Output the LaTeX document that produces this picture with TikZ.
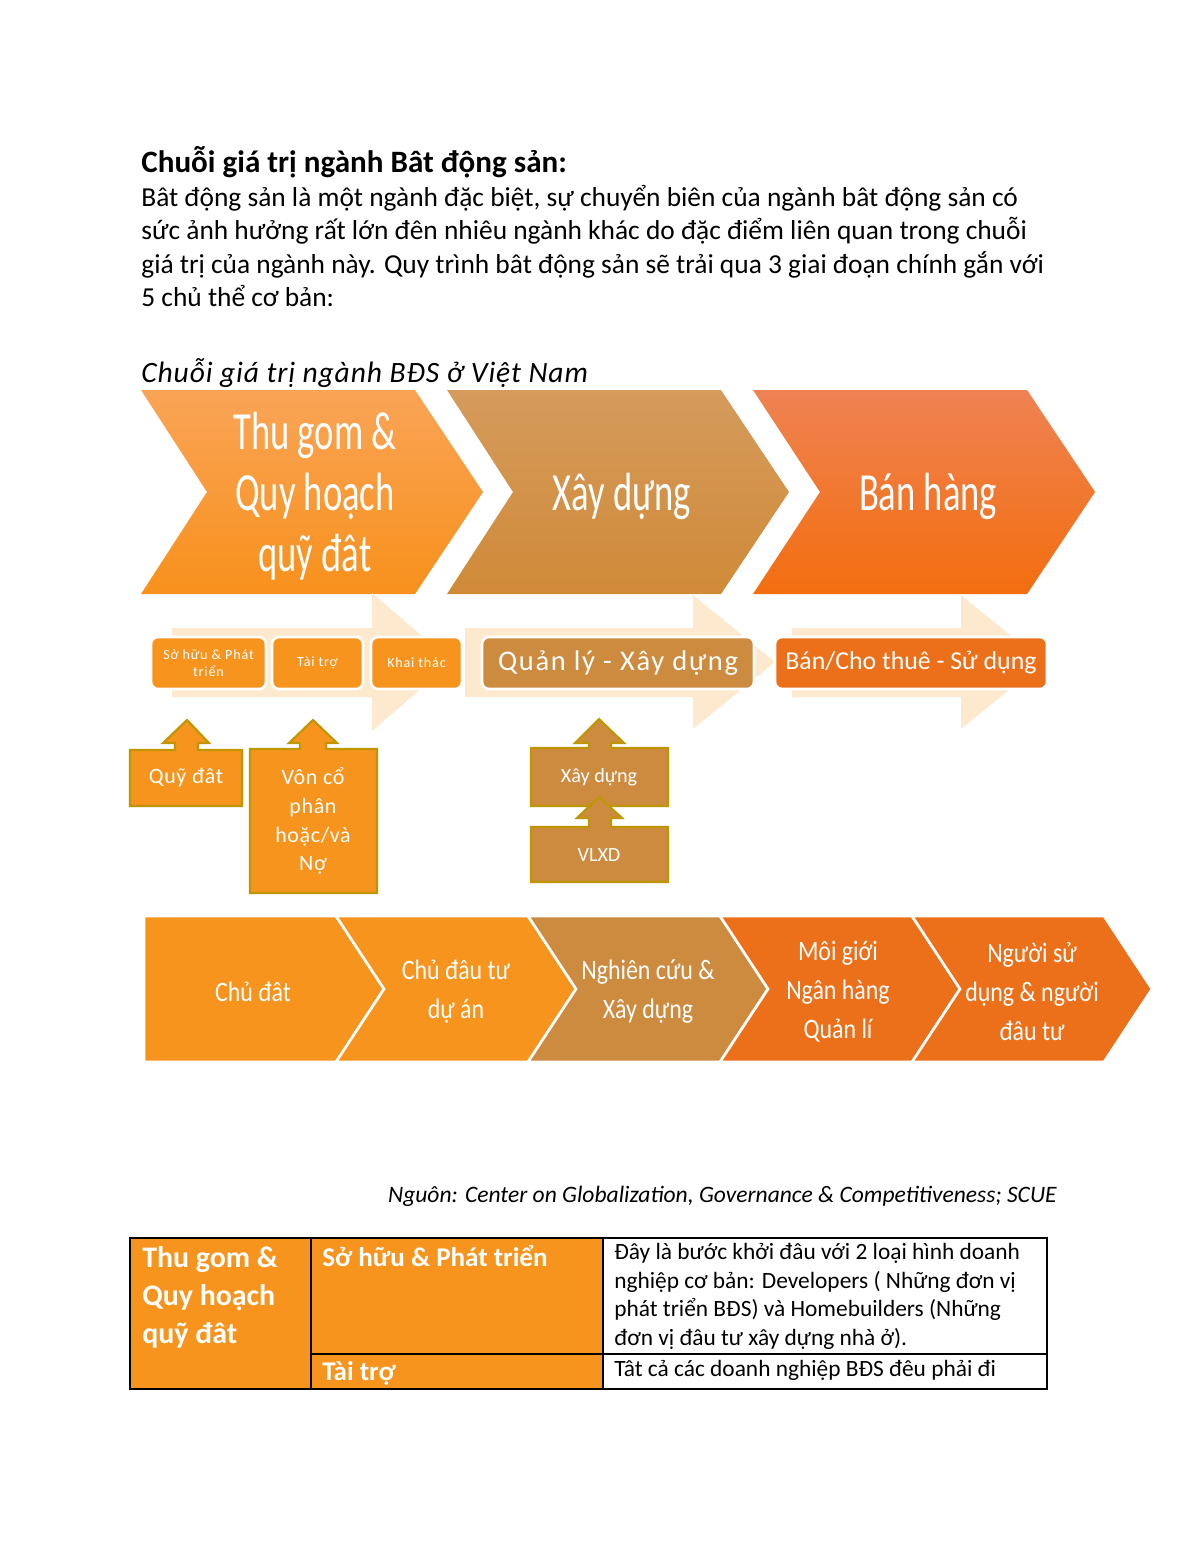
\documentclass[tikz,border=0pt]{standalone}
\usepackage{fontspec}
\setmainfont{Carlito}
\newfontfamily\stagefont[FakeStretch=0.68]{Carlito}
\newfontfamily\actorfont[FakeStretch=0.85]{Carlito}
\newfontfamily\spacedfont[LetterSpace=6]{Carlito}
\newfontfamily\widefont[LetterSpace=3]{Carlito}

\definecolor{orangeA}{RGB}{247,148,30}
\definecolor{tanA}{RGB}{205,139,64}
\definecolor{orangeB}{RGB}{235,112,25}
\definecolor{peach}{RGB}{253,233,205}
\definecolor{goldline}{RGB}{191,150,0}

\begin{document}
\begin{tikzpicture}[x=0.02cm, y=-0.02cm,
	stage/.style={text=white, align=center, font=\stagefont\fontsize{30.6}{34.6}\selectfont},
	actor/.style={draw=white, line width=1.5pt},
	actortext/.style={text=white, align=center, font=\actorfont\fontsize{16}{22.2}\selectfont},
	task/.style={draw=white, line width=1.5pt, rounded corners=4pt, text=white, align=center, inner sep=1pt},
	input/.style={fill=orangeA, draw=goldline, line width=1.2pt},
	inputtext/.style={text=white, align=center, font=\widefont\fontsize{12.5}{16.4}\selectfont},
	cell/.style={anchor=north west, align=left, inner sep=0pt}]
	\useasboundingbox[fill=white] (0,0) rectangle (1200,1553);

	\node[anchor=base west, inner sep=0pt, font=\bfseries\fontsize{17.7}{19}\selectfont] (title) at (141,172) {Chuỗi giá trị ngành Bât động sản:};
	\node[cell, font=\fontsize{15.6}{19}\selectfont] (intro) at (141,185) {Bât động sản là một ngành đặc biệt, sự chuyển biên của ngành bât động sản có\\sức ảnh hưởng rất lớn đên nhiêu ngành khác do đặc điểm liên quan trong chuỗi\\giá trị của ngành này. Quy trình bât động sản sẽ trải qua 3 giai đoạn chính gắn với\\5 chủ thể cơ bản:};
	\node[anchor=base west, inner sep=0pt, font=\itshape\widefont\fontsize{16.8}{19}\selectfont] (caption) at (141,382) {Chuỗi giá trị ngành BĐS ở Việt Nam};

	% three stages
	\shade[top color={rgb,255:red,249;green,164;blue,86}, bottom color={rgb,255:red,248;green,145;blue,28}] (141,390) -- (415,390) -- (483,492) -- (415,594) -- (141,594) -- (207,492) -- cycle;
	\shade[top color={rgb,255:red,213;green,155;blue,92}, bottom color={rgb,255:red,208;green,138;blue,56}] (447,390) -- (721,390) -- (789,492) -- (721,594) -- (447,594) -- (513,492) -- cycle;
	\shade[top color={rgb,255:red,239;green,130;blue,82}, bottom color={rgb,255:red,243;green,110;blue,15}] (753,390) -- (1027,390) -- (1095,492) -- (1027,594) -- (753,594) -- (820,492) -- cycle;
	\node[stage] (thugom) at (315,496) {Thu gom \&\\Quy hoạch\\quỹ đât};
	\node[stage] (xaydung) at (622,496) {Xây dựng};
	\node[stage] (banhang) at (928,496) {Bán hàng};

	% light arrows behind the tasks
	\fill[peach] (172,628) -- (372,628) -- (372,593) -- (452,662) -- (372,731) -- (372,697) -- (172,697) -- cycle;
	\fill[peach] (465,628) -- (693,628) -- (693,595) -- (775,662) -- (693,729) -- (693,697) -- (465,697) -- cycle;
	\fill[peach] (792,628) -- (961,628) -- (961,595) -- (1043,662) -- (961,729) -- (961,697) -- (792,697) -- cycle;

	\node[task, fill=orangeA, minimum width=2.3cm, minimum height=1.04cm, font=\spacedfont\fontsize{8}{9.6}\selectfont] (sohuu) at (208.5,663) {Sở hữu \& Phát\\triển};
	\node[task, fill=orangeA, minimum width=1.82cm, minimum height=1.04cm, font=\spacedfont\fontsize{8}{9.6}\selectfont] (taitro) at (317.5,663) {Tài trợ};
	\node[task, fill=orangeA, minimum width=1.82cm, minimum height=1.04cm, font=\spacedfont\fontsize{8}{9.6}\selectfont] (khaithac) at (416.5,663) {Khai thác};
	\node[task, fill=tanA, minimum width=5.44cm, minimum height=1.04cm, font=\spacedfont\fontsize{16.2}{18}\selectfont] (quanly) at (618,663) {Quản lý - Xây dựng};
	\node[task, fill=orangeB, minimum width=5.44cm, minimum height=1.04cm, font=\fontsize{14.7}{16}\selectfont] (bancho) at (911,663) {Bán/Cho thuê - Sử dụng};

	% inputs
	\filldraw[input] (130,750) -- (175,750) -- (175,743) -- (163,743) -- (187,720) -- (209,743) -- (198,743) -- (198,750) -- (242,750) -- (242,806) -- (130,806) -- cycle;
	\node[inputtext] (quydat) at (186,778) {Quỹ đât};
	\filldraw[input] (250,749) -- (300,749) -- (300,743) -- (289,743) -- (313,720) -- (337,743) -- (326,743) -- (326,749) -- (377,749) -- (377,893) -- (250,893) -- cycle;
	\node[inputtext] (von) at (313,821) {Vôn cổ\\phân\\hoặc/và\\Nợ};
	\filldraw[input, fill=tanA] (531,748) -- (589,748) -- (589,743) -- (575,743) -- (599,719) -- (624,743) -- (611,743) -- (611,748) -- (668,748) -- (668,806) -- (531,806) -- cycle;
	\node[inputtext, font=\fontsize{11.5}{14}\selectfont] (xd) at (599,777) {Xây dựng};
	\filldraw[input, fill=tanA] (531,827) -- (589,827) -- (589,818) -- (577,818) -- (599,797) -- (622,818) -- (611,818) -- (611,827) -- (668,827) -- (668,882) -- (531,882) -- cycle;
	\node[inputtext, font=\fontsize{11.5}{14}\selectfont] (vlxd) at (599,855) {VLXD};

	% five actors
	\filldraw[actor, fill=orangeA] (144,916) -- (336,916) -- (384,989) -- (336,1062) -- (144,1062) -- cycle;
	\filldraw[actor, fill=orangeA] (336,916) -- (528,916) -- (576,989) -- (528,1062) -- (336,1062) -- (384,989) -- cycle;
	\filldraw[actor, fill=tanA] (528,916) -- (720,916) -- (768,989) -- (720,1062) -- (528,1062) -- (576,989) -- cycle;
	\filldraw[actor, fill=orangeB] (720,916) -- (912,916) -- (960,989) -- (912,1062) -- (720,1062) -- (768,989) -- cycle;
	\filldraw[actor, fill=orangeB] (912,916) -- (1104,916) -- (1152,989) -- (1104,1062) -- (912,1062) -- (960,989) -- cycle;
	\node[actortext] (chudat) at (253,992) {Chủ đât};
	\node[actortext] (chudautu) at (456,992) {Chủ đâu tư\\dự án};
	\node[actortext] (nghiencuu) at (648,992) {Nghiên cứu \&\\Xây dựng};
	\node[actortext] (moigioi) at (838,992) {Môi giới\\Ngân hàng\\Quản lí};
	\node[actortext] (nguoisudung) at (1032,992) {Người sử\\dụng \& người\\đâu tư};

	\node[anchor=base east, inner sep=0pt, font=\itshape\fontsize{13.4}{15}\selectfont] (nguon) at (1057,1202) {Nguôn: Center on Globalization, Governance \& Competitiveness; SCUE};

	% table
	\fill[orangeA] (130,1238) rectangle (603,1389);
	\draw[line width=1.1pt] (130,1238) rectangle (1047,1389);
	\draw[line width=1.1pt] (311,1238) -- (311,1389) (603,1238) -- (603,1389);
	\draw[line width=1.5pt] (311,1354) -- (1047,1354);
	\node[cell, text=white, font=\bfseries\fontsize{17}{21.8}\selectfont] (tgqh) at (142,1246) {Thu gom \&\\Quy hoạch\\quỹ đât};
	\node[cell, text=white, font=\bfseries\fontsize{15.4}{16}\selectfont] (shpt) at (322,1245) {Sở hữu \& Phát triển};
	\node[cell, text=white, font=\bfseries\fontsize{15.4}{16}\selectfont] (tt) at (322,1361) {Tài trợ};
	\node[cell, font=\fontsize{13.3}{16.3}\selectfont] (desc) at (614,1243) {Đây là bước khởi đâu với 2 loại hình doanh\\nghiệp cơ bản: Developers ( Những đơn vị\\phát triển BĐS) và Homebuilders (Những\\đơn vị đâu tư xây dựng nhà ở).};
	\node[cell, font=\fontsize{13.3}{16.3}\selectfont] (desc2) at (614,1360) {Tât cả các doanh nghiệp BĐS đêu phải đi};
\end{tikzpicture}
\end{document}
